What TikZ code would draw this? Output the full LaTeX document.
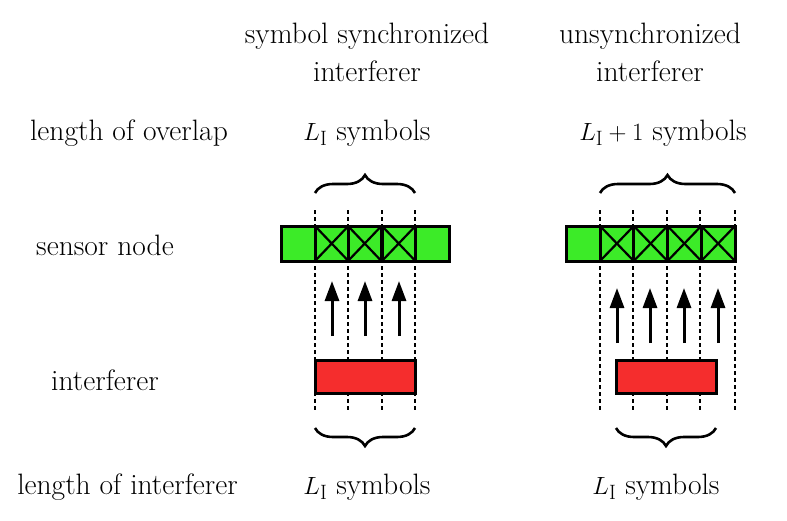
\documentclass[tikz,border=0pt]{standalone}
\usetikzlibrary{decorations.pathreplacing,arrows.meta}
\begin{document}
\begin{tikzpicture}[x=1pt,y=-1pt,
  txt/.style={font=\fontsize{29.5}{34}\selectfont,inner sep=0pt},
  grn/.style={draw,line width=3pt,fill={rgb,255:red,60;green,235;blue,40}},
  red/.style={draw,line width=3pt,fill={rgb,255:red,245;green,45;blue,45}},
  dl/.style={dash pattern=on 4pt off 3pt,line width=1.1pt},
  ar/.style={-{Triangle[length=20pt,width=14pt]},line width=3pt},
  br/.style={decorate,decoration={brace,amplitude=18pt},line width=2.6pt}]
\useasboundingbox (0,0) rectangle (787,520);
% labels
\node[txt,align=center] (t1) at (367,52) {symbol synchronized\\[4pt]interferer};
\node[txt,align=center] (t2) at (650,52) {unsynchronized\\[4pt]interferer};
\node[txt,anchor=east] (r1) at (228,133) {length of overlap};
\node[txt] (r2) at (105,245) {sensor node};
\node[txt] (r3) at (105,380) {interferer};
\node[txt,anchor=east] (r4) at (238,487) {length of interferer};
\node[txt] (o1) at (367,133) {$L_{\mathrm{I}}$ symbols};
\node[txt] (o2) at (663,133) {$L_{\mathrm{I}}+1$ symbols};
\node[txt] (b1) at (367,487) {$L_{\mathrm{I}}$ symbols};
\node[txt] (b2) at (656,487) {$L_{\mathrm{I}}$ symbols};
% left group
\foreach \x in {315,348,382,415} \draw[dl] (\x,210) -- (\x,410);
\draw[grn] (281,226) rectangle (449,261);
\foreach \x in {315,348,382} {
  \draw[line width=3pt] (\x,226) rectangle ++(33.4,35);
  \draw[line width=2.2pt] (\x,226) -- ++(33.4,35) (\x,261) -- ++(33.4,-35);}
\draw[red] (315,360) rectangle (415,393);
\foreach \x in {332,365,399} \draw[ar] (\x,336) -- (\x,281);
\draw[br] (315,193) -- (415,193);
\draw[br] (415,428) -- (315,428);
% right group
\foreach \x in {600,633,667,700,735} \draw[dl] (\x,210) -- (\x,410);
\draw[grn] (566,226) rectangle (735,261);
\foreach \x in {600,633.75,667.5,701.25} {
  \draw[line width=3pt] (\x,226) rectangle ++(33.75,35);
  \draw[line width=2.2pt] (\x,226) -- ++(33.75,35) (\x,261) -- ++(33.75,-35);}
\draw[red] (616,360) rectangle (716,393);
\foreach \x in {617,650,684,718} \draw[ar] (\x,343) -- (\x,288);
\draw[br] (600,193) -- (735,193);
\draw[br] (716,428) -- (616,428);
\end{tikzpicture}
\end{document}
